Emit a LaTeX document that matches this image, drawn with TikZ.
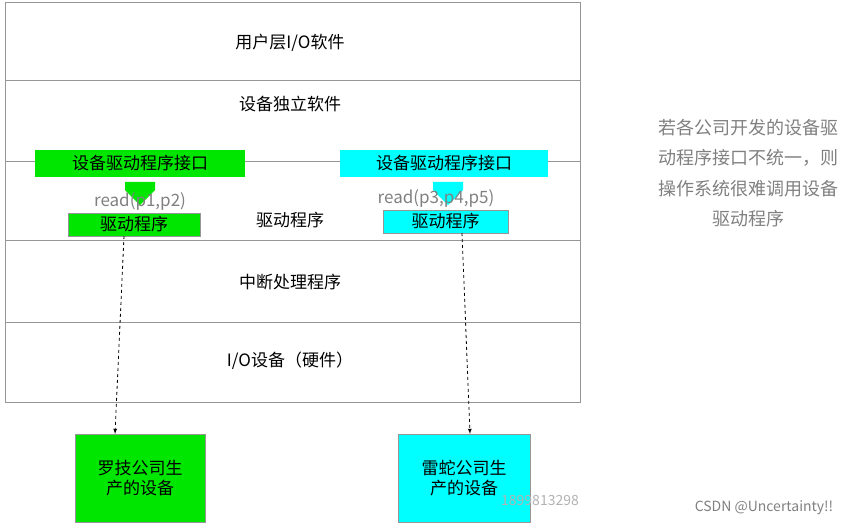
\documentclass[tikz,border=0pt]{standalone}
\usepackage{fontspec}
\setmainfont{Noto Sans CJK SC}
\usetikzlibrary{shapes.arrows}
\definecolor{gr}{RGB}{0,230,0}
\definecolor{cy}{RGB}{0,255,255}
\definecolor{ln}{RGB}{150,150,150}
\begin{document}
\begin{tikzpicture}[x=1pt,y=-1pt,
  lab/.style={font=\fontsize{17}{20}\selectfont},
  bx/.style={draw=ln,line width=0.8pt},
  fat/.style={single arrow,minimum width=30pt,single arrow head extend=0pt,minimum height=22pt,shape border rotate=270,inner sep=4pt}]
\useasboundingbox (0,0) rectangle (865,527);
\draw[ln,line width=1pt] (5,3) rectangle (580,402);
\foreach \y in {81,161,240,322} \draw[ln,line width=1pt] (5,\y) -- (580,\y);
\node[lab] (l1) at (290,43) {用户层I/O软件};
\node[lab] (l2) at (290,104) {设备独立软件};
\node[lab] (l3) at (290,220) {驱动程序};
\node[lab] (l4) at (290,282) {中断处理程序};
\node[lab] (l5) at (290,361) {I/O设备（硬件）};
\node[fill=gr,draw=none,minimum width=210pt,minimum height=27pt,lab] (ig) at (140,163.5) {设备驱动程序接口};
\node[fill=cy,draw=none,minimum width=208pt,minimum height=27pt,lab] (ic) at (444,163.5) {设备驱动程序接口};
\node[fat,fill=gr] (ag) at (140,186) {};
\node[fat,fill=cy] (ac) at (448,186) {};
\node[text=gray,font=\fontsize{17}{20}\selectfont] (rg) at (140,201) {read(p1,p2)};
\node[text=gray,font=\fontsize{17}{20}\selectfont] (rc) at (436,198) {read(p3,p4,p5)};
\node[bx,fill=gr,minimum width=132pt,minimum height=23pt,inner sep=0pt,lab] (dg) at (134,224.5) {驱动程序};
\node[bx,fill=cy,minimum width=125pt,minimum height=23pt,inner sep=0pt,lab] (dc) at (445.5,221.5) {驱动程序};
\node[bx,fill=gr,minimum width=130pt,minimum height=88pt,align=center,lab] (eg) at (140,478) {罗技公司生\\产的设备};
\node[bx,fill=cy,minimum width=132pt,minimum height=88pt,align=center,lab] (ec) at (464,478) {雷蛇公司生\\产的设备};
\draw[dashed,-latex,line width=0.8pt] (124,236) -- (115,434);
\draw[dashed,-latex,line width=0.8pt] (462,233) -- (470,434);
\node[text=gray,align=center,font=\fontsize{18}{30.5}\selectfont] (note) at (748,173) {若各公司开发的设备驱\\动程序接口不统一，则\\操作系统很难调用设备\\驱动程序};
\node[text=gray!60,font=\fontsize{14}{16}\selectfont] (wm) at (540,501) {1899813298};
\node[text=gray,font=\fontsize{14}{16}\selectfont] (cs) at (764,508) {CSDN @Uncertainty!!};
\end{tikzpicture}
\end{document}
